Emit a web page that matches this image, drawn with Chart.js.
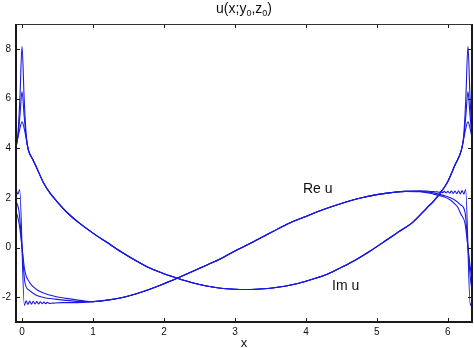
<!DOCTYPE html>
<html>
<head>
<meta charset="utf-8">
<script src="https://cdn.jsdelivr.net/npm/chart.js@4.4.0/dist/chart.umd.min.js"></script>
<style>
  html, body { margin: 0; padding: 0; background: #fff; }
</style>
</head>
<body>
<canvas id="myChart" width="474" height="348"></canvas>
<script>
// tick labels
var xTicks = [0, 1, 2, 3, 4, 5, 6];
var yTicks = [-2, 0, 2, 4, 6, 8];

// U-shaped curve, common part (all three resolutions agree here)
var uX = [0.09, 0.15, 0.2, 0.3, 0.4, 0.5, 0.62, 0.8, 1.0, 1.2, 1.4, 1.6, 1.8, 2.0, 2.2, 2.4, 2.6, 2.8, 3.0, 3.14,
          3.3, 3.5, 3.7, 3.9, 4.1, 4.3, 4.5, 4.7, 4.9, 5.1, 5.3, 5.5, 5.7, 5.8, 5.9, 6.0, 6.1, 6.19];
var uY = [3.92, 3.55, 3.25, 2.62, 2.17, 1.83, 1.45, 1.0, 0.58, 0.2, -0.18, -0.52, -0.83, -1.06, -1.25, -1.42, -1.55, -1.64, -1.68, -1.69,
          -1.68, -1.64, -1.56, -1.44, -1.27, -1.08, -0.8, -0.5, -0.15, 0.23, 0.62, 1.0, 1.58, 1.87, 2.22, 2.66, 3.32, 3.92];

// U curve end spikes, three resolutions
var uHiLX = [-0.09, -0.06, -0.03, 0, 0.03, 0.06];
var uHiLY = [3.95, 4.5, 6.0, 8.1, 6.0, 4.5];
var uHiRX = [6.223, 6.253, 6.283, 6.313, 6.343, 6.373];
var uHiRY = [4.5, 6.0, 8.1, 6.0, 4.5, 3.95];
var uMdLX = [-0.09, -0.06, -0.03, 0, 0.03, 0.06];
var uMdLY = [4.0, 4.4, 5.3, 6.28, 5.3, 4.4];
var uMdRX = [6.223, 6.253, 6.283, 6.313, 6.343, 6.373];
var uMdRY = [4.4, 5.3, 6.28, 5.3, 4.4, 4.0];
var uLoLX = [-0.09, -0.045, 0, 0.045];
var uLoLY = [4.05, 4.6, 5.06, 4.6];
var uLoRX = [6.238, 6.283, 6.328, 6.373];
var uLoRY = [4.6, 5.06, 4.6, 4.05];

// S-shaped curve, common part
var sX = [1.0, 1.2, 1.4, 1.6, 1.8, 2.0, 2.2, 2.4, 2.6, 2.8, 3.0, 3.2, 3.4, 3.6, 3.8, 4.0, 4.2, 4.4, 4.6, 4.8, 5.0, 5.2, 5.4];
var sY = [-2.18, -2.12, -2.02, -1.87, -1.68, -1.46, -1.22, -0.97, -0.71, -0.45, -0.14, 0.14, 0.44, 0.74, 1.03, 1.25, 1.48, 1.68, 1.86, 2.01, 2.13, 2.21, 2.26];

// S curve ends, high resolution (ringing)
var sHiLX = [-0.108, -0.083, -0.058, -0.033, 0.033, 0.058, 0.083, 0.108, 0.133, 0.158, 0.183, 0.208, 0.233, 0.258, 0.283, 0.308, 0.333, 0.358, 0.383, 0.433, 0.55, 0.7, 0.85];
var sHiLY = [2.16, 2.29, 2.15, 2.33, -2.33, -2.15, -2.29, -2.16, -2.28, -2.17, -2.27, -2.18, -2.27, -2.19, -2.26, -2.2, -2.26, -2.21, -2.25, -2.24, -2.22, -2.22, -2.21];
var sHiRX = [5.6, 5.7, 5.8, 5.85, 5.875, 5.9, 5.925, 5.95, 5.975, 6.0, 6.025, 6.05, 6.075, 6.1, 6.125, 6.15, 6.175, 6.2, 6.225, 6.25, 6.316, 6.341, 6.366, 6.391];
var sHiRY = [2.28, 2.27, 2.25, 2.24, 2.22, 2.25, 2.21, 2.26, 2.2, 2.26, 2.19, 2.27, 2.18, 2.27, 2.17, 2.28, 2.16, 2.29, 2.15, 2.33, -2.33, -2.15, -2.29, -2.16];

// S curve ends, medium resolution
var sMdLX = [-0.13, -0.085, -0.04, 0, 0.04, 0.1, 0.2, 0.3, 0.47, 0.7, 0.85];
var sMdLY = [1.95, 1.85, 1.4, 0, -1.4, -1.72, -1.92, -2.01, -2.08, -2.15, -2.18];
var sMdRX = [5.6, 5.8, 5.98, 6.08, 6.18, 6.243, 6.283, 6.323, 6.368, 6.413];
var sMdRY = [2.26, 2.2, 2.06, 1.94, 1.72, 1.4, 0, -1.4, -1.85, -1.95];

// S curve ends, low resolution
var sLoLX = [-0.13, -0.085, -0.04, 0, 0.04, 0.1, 0.2, 0.3, 0.47, 0.7, 0.85];
var sLoLY = [1.62, 1.45, 0.95, 0, -0.95, -1.38, -1.68, -1.83, -1.97, -2.08, -2.14];
var sLoRX = [5.6, 5.8, 5.95, 6.03, 6.1, 6.14, 6.183, 6.243, 6.283, 6.323, 6.368, 6.413];
var sLoRY = [2.25, 2.15, 2.03, 1.92, 1.75, 1.62, 1.35, 0.95, 0, -0.95, -1.45, -1.62];

function pts(xs, ys) {
  return xs.map(function (x, i) { return { x: x, y: ys[i] }; });
}

function curve(parts) {
  var out = [];
  parts.forEach(function (p) { out = out.concat(pts(p[0], p[1])); });
  return out;
}

var blue = 'rgb(25,25,225)';

function ds(data) {
  return {
    data: data,
    borderColor: blue,
    borderWidth: 1.1,
    pointRadius: 0,
    fill: false,
    cubicInterpolationMode: 'monotone'
  };
}

var datasets = [
  ds(curve([[uLoLX, uLoLY], [uX, uY], [uLoRX, uLoRY]])),
  ds(curve([[uMdLX, uMdLY], [uX, uY], [uMdRX, uMdRY]])),
  ds(curve([[uHiLX, uHiLY], [uX, uY], [uHiRX, uHiRY]])),
  ds(curve([[sLoLX, sLoLY], [sX, sY], [sLoRX, sLoRY]])),
  ds(curve([[sMdLX, sMdLY], [sX, sY], [sMdRX, sMdRY]])),
  ds(curve([[sHiLX, sHiLY], [sX, sY], [sHiRX, sHiRY]]))
];

// box, inward ticks on all sides, title and text labels (MATLAB look)
var frame = {
  id: 'frame',
  afterDraw: function (chart) {
    var ctx = chart.ctx, a = chart.chartArea;
    var xs = chart.scales.x, ys = chart.scales.y;
    ctx.save();
    ctx.strokeStyle = '#1a1a1a';
    ctx.lineWidth = 1;
    xTicks.forEach(function (v) {
      var p = Math.round(xs.getPixelForValue(v)) + 0.5;
      ctx.beginPath();
      ctx.moveTo(p, a.bottom); ctx.lineTo(p, a.bottom - 4);
      ctx.moveTo(p, a.top); ctx.lineTo(p, a.top + 4);
      ctx.stroke();
    });
    yTicks.forEach(function (v) {
      var p = Math.round(ys.getPixelForValue(v)) + 0.5;
      ctx.beginPath();
      ctx.moveTo(a.left, p); ctx.lineTo(a.left + 4, p);
      ctx.moveTo(a.right, p); ctx.lineTo(a.right - 4, p);
      ctx.stroke();
    });
    ctx.lineWidth = 1;
    ctx.strokeStyle = '#333';
    ctx.beginPath();
    ctx.moveTo(a.left, a.top + 0.5); ctx.lineTo(a.right, a.top + 0.5);
    ctx.stroke();
    ctx.lineWidth = 2;
    ctx.strokeStyle = '#1a1a1a';
    ctx.beginPath();
    ctx.moveTo(a.left, a.top); ctx.lineTo(a.left, a.bottom);
    ctx.lineTo(a.right, a.bottom); ctx.lineTo(a.right, a.top);
    ctx.stroke();

    // title with subscripts
    var parts = [['u(x;y', 14, 13], ['0', 9, 16], [',z', 14, 13], ['0', 9, 16], [')', 14, 13]];
    var w = 0;
    parts.forEach(function (p) {
      ctx.font = p[1] + 'px "Liberation Sans", Arial, sans-serif';
      p.push(ctx.measureText(p[0]).width);
      w += p[3];
    });
    var x0 = (a.left + a.right) / 2 - w / 2;
    ctx.fillStyle = '#111';
    ctx.textAlign = 'left';
    ctx.textBaseline = 'alphabetic';
    parts.forEach(function (p) {
      ctx.font = p[1] + 'px "Liberation Sans", Arial, sans-serif';
      ctx.fillText(p[0], x0, p[2]);
      x0 += p[3];
    });

    ctx.font = '13px "Liberation Sans", Arial, sans-serif';
    ctx.textAlign = 'center';
    ctx.fillText('x', (a.left + a.right) / 2, 346.5);

    ctx.font = '14px "Liberation Sans", Arial, sans-serif';
    ctx.textAlign = 'left';
    ctx.fillText('Re u', 303, 193);
    ctx.fillText('Im u', 332, 290);
    ctx.restore();
  }
};

new Chart('myChart', {
  type: 'line',
  data: { datasets: datasets },
  options: {
    responsive: false,
    animation: false,
    events: [],
    layout: { padding: { top: 24, right: 2, left: 0, bottom: 0 } },
    plugins: { legend: { display: false }, tooltip: { enabled: false } },
    scales: {
      x: {
        type: 'linear',
        min: -0.085,
        max: 6.34,
        grid: { display: false, drawTicks: false },
        border: { display: false },
        afterBuildTicks: function (s) { s.ticks = xTicks.map(function (v) { return { value: v }; }); },
        afterFit: function (s) { s.height = 26; },
        ticks: {
          color: '#111',
          padding: 4,
          maxRotation: 0,
          font: { family: '"Liberation Sans", Arial, sans-serif', size: 10 }
        }
      },
      y: {
        type: 'linear',
        min: -3,
        max: 9,
        grid: { display: false, drawTicks: false },
        border: { display: false },
        afterBuildTicks: function (s) { s.ticks = yTicks.map(function (v) { return { value: v }; }); },
        afterFit: function (s) { s.width = 16; },
        ticks: {
          color: '#111',
          padding: 5,
          font: { family: '"Liberation Sans", Arial, sans-serif', size: 10 }
        }
      }
    }
  },
  plugins: [frame]
});
</script>
</body>
</html>
